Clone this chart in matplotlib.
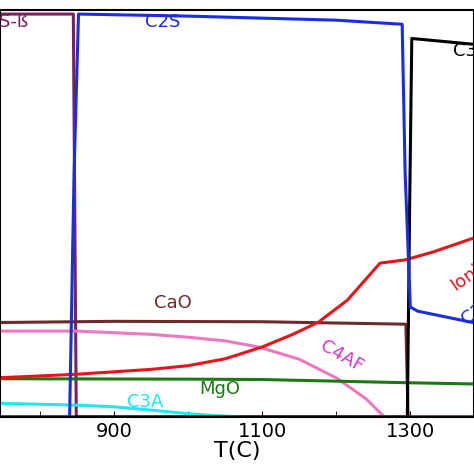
import matplotlib
matplotlib.use("Agg")
import matplotlib.pyplot as plt

# phase amounts (arbitrary units, 0-100 of axis height) vs temperature
t_c2sb = [740, 845, 849, 1390]
y_c2sb = [99, 99, 0, 0]
t_c2s = [740, 840, 846, 852, 1000, 1200, 1289, 1293, 1300, 1310, 1390]
y_c2s = [0, 0, 60, 99, 98.5, 97.5, 96.5, 60, 27, 26, 23]
t_c3s = [740, 1296, 1299, 1302, 1390]
y_c3s = [0, 0, 50, 93, 91.5]
t_liq = [740, 850, 950, 1000, 1050, 1100, 1140, 1176, 1215, 1259, 1293, 1330, 1386]
y_liq = [9.6, 10.5, 11.7, 12.6, 14.3, 17.2, 20.2, 23.3, 28.7, 37.8, 38.6, 40.5, 44]
t_cao = [740, 900, 1100, 1294, 1297, 1390]
y_cao = [23.2, 23.5, 23.4, 22.8, 0, 0]
t_c4af = [740, 850, 950, 1000, 1050, 1095, 1150, 1200, 1240, 1265]
y_c4af = [21.1, 21.1, 20.3, 19.6, 18.7, 17.2, 14.2, 9.6, 4.5, 0]
t_mgo = [740, 1000, 1100, 1200, 1300, 1390]
y_mgo = [9.4, 9.3, 9.2, 8.8, 8.4, 8.1]
t_c3a = [740, 850, 900, 950, 1000, 1040, 1070]
y_c3a = [3.4, 2.9, 2.5, 1.7, 0.8, 0.3, 0]

fig = plt.figure(figsize=(4.74, 4.74), dpi=100)
ax = fig.add_axes([0, 0.1203, 1, 0.8586])
lw = 2.2
ax.plot(t_c2sb, y_c2sb, color="#7b1f5e", lw=lw)
ax.plot(t_c4af, y_c4af, color="#ee77c0", lw=lw)
ax.plot(t_c3a, y_c3a, color="#22e6f0", lw=lw)
ax.plot(t_mgo, y_mgo, color="#1a7a12", lw=lw)
ax.plot(t_cao, y_cao, color="#6e2a2a", lw=lw)
ax.plot(t_liq, y_liq, color="#e8141a", lw=lw)
ax.plot(t_c3s, y_c3s, color="black", lw=lw)
ax.plot(t_c2s, y_c2s, color="#1a2ee0", lw=lw)

ax.set_xlim(746, 1386)
ax.set_ylim(0, 100)
ax.set_xticks([900, 1100, 1300])
ax.set_xticks([800, 1000, 1200], minor=True)
ax.set_yticks([])
ax.tick_params(axis="x", labelsize=14, direction="in", length=4)
ax.tick_params(axis="x", which="minor", direction="in", length=4)
ax.set_xlabel("T(C)", fontsize=16, labelpad=0)
for s in ax.spines.values():
    s.set_linewidth(1.5)

fs = 13
ax.text(748, 97, "C2S-ß", color="#7b1f5e", fontsize=fs, ha="center", va="center")
ax.text(965, 97, "C2S", color="#1a2ee0", fontsize=fs, ha="center", va="center")
ax.text(1358, 90, "C3S", color="black", fontsize=fs, ha="left", va="center")
ax.text(1350, 35, "Ionic", color="#e8141a", fontsize=fs, rotation=35, ha="left", va="center")
ax.text(1364, 26, "C2S", color="#1a2ee0", fontsize=fs, rotation=35, ha="left", va="center")
ax.text(979, 28, "CaO", color="#6e2a2a", fontsize=fs, ha="center", va="center")
ax.text(1208, 15, "C4AF", color="#dd33cc", fontsize=fs, rotation=-30, ha="center", va="center")
ax.text(1043, 6.8, "MgO", color="#1a7a12", fontsize=fs, ha="center", va="center")
ax.text(942, 3.6, "C3A", color="#22e6f0", fontsize=fs, ha="center", va="center")

fig.savefig("out.png", dpi=100)
